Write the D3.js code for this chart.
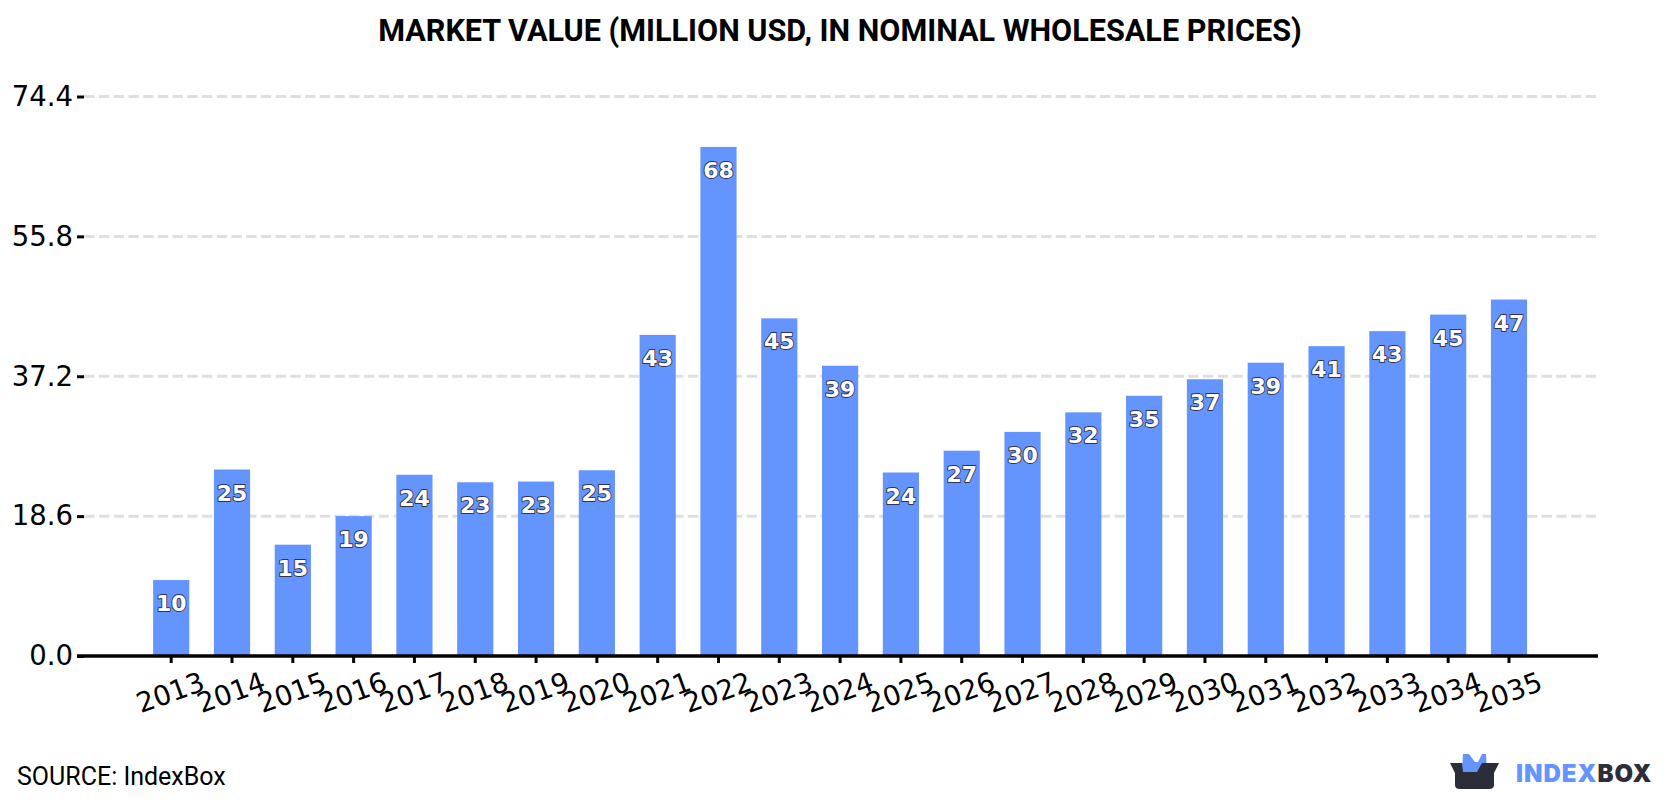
<!DOCTYPE html>
<html>
<head>
<meta charset="utf-8">
<style>
html,body{margin:0;padding:0;background:#fff;}
svg{display:block;}
.domain{stroke:#000;stroke-width:3.5;}
.tick line{stroke:#000;stroke-width:3;}
.tick text{font-family:"DejaVu Sans";font-size:27.5px;fill:#000;}
</style>
<script src="https://cdn.jsdelivr.net/npm/d3@7/dist/d3.min.js"></script>
</head>
<body>
<svg id="chart" width="1680" height="800"></svg>
<script>
const titleText = "MARKET VALUE (MILLION USD, IN NOMINAL WHOLESALE PRICES)";
const sourceText = "SOURCE: IndexBox";
const years = [2013,2014,2015,2016,2017,2018,2019,2020,2021,2022,2023,2024,2025,2026,2027,2028,2029,2030,2031,2032,2033,2034,2035];
const marketValue = [10.1,24.8,14.8,18.6,24.1,23.1,23.2,24.7,42.7,67.7,44.9,38.6,24.4,27.3,29.8,32.4,34.6,36.8,39.0,41.2,43.2,45.4,47.4];
const yTicks = [0,18.6,37.2,55.8,74.4];

const BAR_COLOR = "#6495ff";
const svg = d3.select("#chart");

const x = d3.scaleBand().domain(years).range([140.8,1539.4]).paddingInner(0.405).paddingOuter(0.2025);
const y = d3.scaleLinear().domain([0,74.4]).range([656,96.5]);

// dashed horizontal guides
svg.append("g").selectAll("line").data(yTicks.slice(1)).join("line")
  .attr("x1",84.3).attr("x2",1596.3)
  .attr("y1",d=>y(d)).attr("y2",d=>y(d))
  .attr("stroke","#dfdfdf").attr("stroke-width",3)
  .attr("stroke-dasharray","10.3 4.42");

// bars
svg.append("g").selectAll("rect").data(years).join("rect")
  .attr("x",d=>x(d)).attr("width",x.bandwidth())
  .attr("y",(d,i)=>y(marketValue[i]))
  .attr("height",(d,i)=>y(0)-y(marketValue[i]))
  .attr("fill",BAR_COLOR);

// value axis
const yAxis = d3.axisLeft(y).tickValues(yTicks).tickFormat(d3.format(".1f")).tickSize(7).tickPadding(4);
const yG = svg.append("g").attr("transform","translate(84,0)").call(yAxis);
yG.select(".domain").remove();

// year axis with slanted labels
const xAxis = d3.axisBottom(x).tickSize(7).tickSizeOuter(0);
const xG = svg.append("g").attr("transform","translate(0,656)").call(xAxis);
xG.select(".domain").attr("d","M77,0H1598");
xG.selectAll(".tick text")
  .attr("text-anchor","middle")
  .attr("dominant-baseline","central")
  .attr("y",0).attr("dy",0)
  .attr("transform","translate(-1,36) rotate(-20)");

// value labels inside each bar
svg.append("g").selectAll("text").data(years).join("text")
  .attr("x",d=>x(d)+x.bandwidth()/2)
  .attr("y",(d,i)=>y(marketValue[i])+31)
  .attr("text-anchor","middle")
  .attr("font-family","DejaVu Sans").attr("font-weight","bold").attr("font-size",22)
  .attr("fill","#fff").attr("stroke","#333344").attr("stroke-width",1.8).attr("paint-order","stroke")
  .attr("stroke-linejoin","round")
  .text((d,i)=>d3.format(".0f")(marketValue[i]));

// heading and source note
svg.append("text").attr("x",840).attr("y",41).attr("text-anchor","middle")
  .attr("font-family","Roboto").attr("font-weight","bold").attr("font-size",30.6).attr("fill","#000")
  .text(titleText);
svg.append("text").attr("x",17).attr("y",785)
  .attr("font-family","Roboto").attr("font-size",25).attr("fill","#000")
  .text(sourceText);

// brand mark
const logo = svg.append("g");
logo.append("path").attr("fill",BAR_COLOR)
  .attr("d","M1462,772L1463,754L1469,754L1475,762L1478,762L1482,754L1486,754L1487,772Z");
logo.append("path").attr("fill","#2b2d38")
  .attr("d","M1450,763L1499,763L1494,773L1494,785Q1494,789 1489,789L1460,789Q1455,789 1455,785L1455,773Z");
logo.append("path").attr("fill",BAR_COLOR).attr("d","M1462,763L1482,763L1477,772L1463,772Z");
const brand = svg.append("text").attr("x",1516).attr("y",782)
  .attr("font-family","Inter").attr("font-weight",900).attr("font-size",24).attr("letter-spacing",1);
brand.append("tspan").attr("fill",BAR_COLOR).text("INDEX");
brand.append("tspan").attr("fill","#2b2d38").text("BOX");
</script>
</body>
</html>
